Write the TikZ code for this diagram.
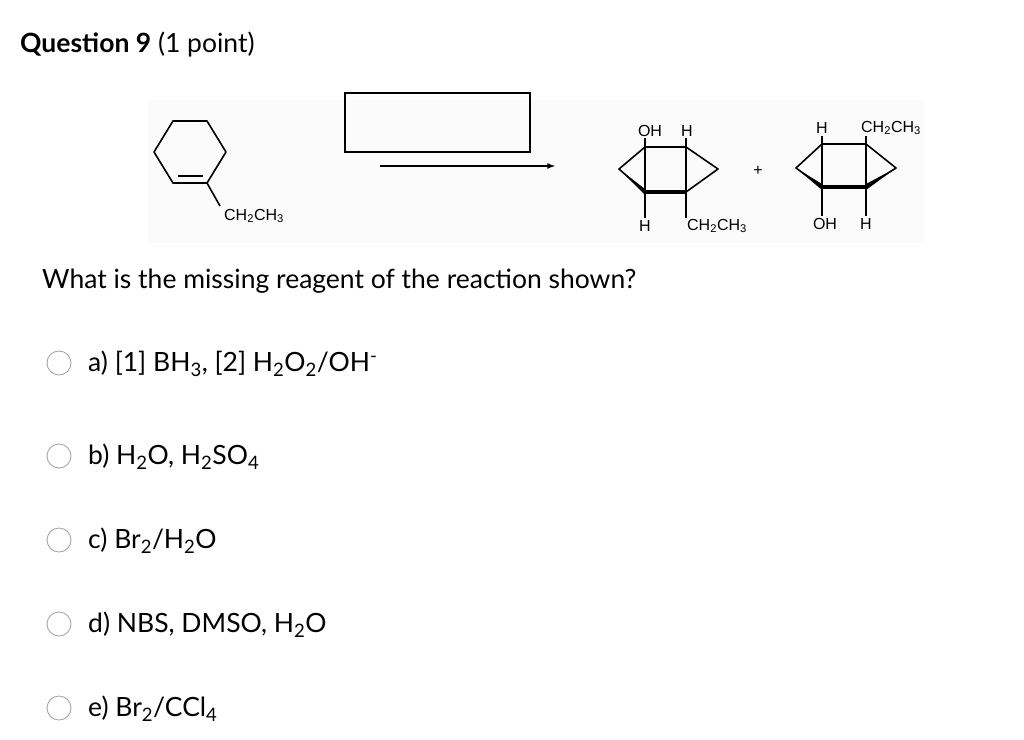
\documentclass[tikz,border=0pt]{standalone}
\usepackage{fontspec}
\setmainfont{Lato}
\newfontfamily\chemfont{Liberation Sans}
\newcommand{\sbs}[1]{\textsubscript{#1}}
\begin{document}
\begin{tikzpicture}[x=1pt,y=-1pt,
  chem/.style={font=\chemfont\fontsize{16}{17}\selectfont, inner sep=0pt},
  bond/.style={line width=1.6pt, line join=round},
  qtext/.style={font=\fontsize{26.5}{30}\selectfont, anchor=west, inner sep=0pt},
  radio/.style={circle, draw=gray!70, line width=0.9pt, minimum size=24pt, inner sep=0pt}]
\useasboundingbox (0,0) rectangle (1024,739);
\fill[gray!3] (148,100) rectangle (925,243);
\node[anchor=west, inner sep=0pt, font=\fontsize{26.5}{30}\selectfont] (q) at (20,44) {\textbf{Question 9} (1 point)};
% reactant
\draw[bond] (173,121) -- (207,121) -- (226,152) -- (207,183) -- (173,183) -- (154,152) -- cycle;
\draw[bond] (178,176) -- (203,176);
\draw[bond] (207,183) -- (220,206);
\node[chem] (r) at (254,216) {CH\sbs{2}CH\sbs{3}};
% box and arrow
\node[draw, line width=1.8pt, minimum width=185pt, minimum height=59pt, inner sep=0pt] (box) at (437.5,122.5) {};
\coordinate (a1) at (380,166); \coordinate (a2) at (555,166);
\draw[line width=1.6pt, -latex] (a1) -- (a2);
% product 1
\node[chem] (oh1) at (650,131) {OH};
\node[chem] (h1) at (687,131) {H};
\node[chem] (h2) at (645,226) {H};
\node[chem] (e1) at (717,226) {CH\sbs{2}CH\sbs{3}};
\draw[bond] (645,138) -- (645,218);
\draw[bond] (686,138) -- (686,218);
\draw[bond] (645,147) -- (686,147);
\draw[bond] (645,147) -- (619,169) -- (645,192);
\draw[bond] (686,147) -- (718,169) -- (686,192);
\draw[line width=3.2pt] (645,192) -- (686,192);
\fill (619,169) -- (645,189) -- (645,195) -- cycle;
\node[chem] (plus) at (758,171) {+};
% product 2
\node[chem] (h3) at (822,128) {H};
\node[chem] (e2) at (891,128) {CH\sbs{2}CH\sbs{3}};
\node[chem] (oh2) at (825,224) {OH};
\node[chem] (h4) at (866,224) {H};
\draw[bond] (822,136) -- (822,216);
\draw[bond] (866,136) -- (866,216);
\draw[bond] (822,144) -- (866,144);
\draw[bond] (822,144) -- (796,168) -- (822,187);
\draw[bond] (866,144) -- (896,168) -- (866,187);
\draw[line width=3.2pt] (822,187) -- (866,187);
\fill (796,168) -- (822,184) -- (822,190) -- cycle;
\fill (896,168) -- (866,184) -- (866,190) -- cycle;
% question
\node[qtext] (t) at (42,281) {What is the missing reagent of the reaction shown?};
\node[radio] (c1) at (59,363) {};
\node[radio] (c2) at (59,456) {};
\node[radio] (c3) at (59,540) {};
\node[radio] (c4) at (59,624) {};
\node[radio] (c5) at (59,708) {};
\node[qtext] (o1) at (88,364) {a) [1] BH\sbs{3}, [2] H\sbs{2}O\sbs{2}/OH\textsuperscript{-}};
\node[qtext] (o2) at (88,457) {b) H\sbs{2}O, H\sbs{2}SO\sbs{4}};
\node[qtext] (o3) at (88,541) {c) Br\sbs{2}/H\sbs{2}O};
\node[qtext] (o4) at (88,625) {d) NBS, DMSO, H\sbs{2}O};
\node[qtext] (o5) at (88,709) {e) Br\sbs{2}/CCl\sbs{4}};
\end{tikzpicture}
\end{document}
